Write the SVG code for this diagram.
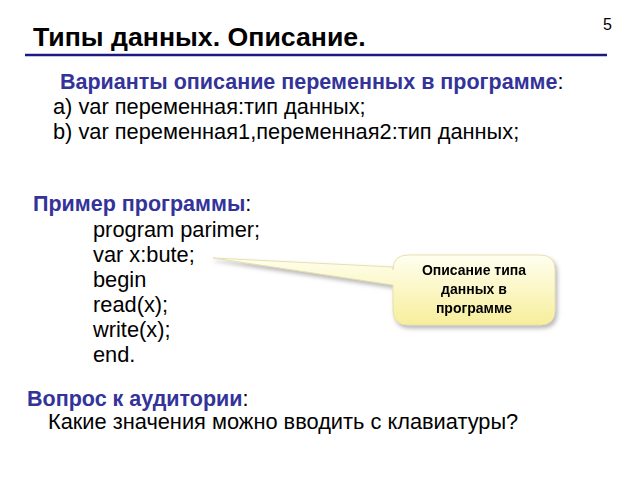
<svg xmlns="http://www.w3.org/2000/svg" width="640" height="480" viewBox="0 0 640 480">
<defs>
<style>
text{font-family:"Liberation Sans",Arial,sans-serif}
.b{fill:#333399;font-weight:bold;font-size:21.5px}
.t{fill:#000;font-size:21.8px}
</style>
<linearGradient id="g" x1="0" y1="0" x2="0" y2="1"><stop offset="0" stop-color="#fffff0"/><stop offset="1" stop-color="#f7ee9a"/></linearGradient>
<filter id="s" x="-10%" y="-10%" width="130%" height="140%"><feDropShadow dx="2" dy="3" stdDeviation="2" flood-color="#888" flood-opacity="0.6"/></filter>
</defs>
<rect width="640" height="480" fill="#fff"/>
<text x="612" y="30" font-size="16" text-anchor="end">5</text>
<text x="33" y="46" font-size="26.7" font-weight="bold">Типы данных. Описание.</text>
<line x1="25" y1="55" x2="607" y2="55" stroke="#1a1a80" stroke-width="2.5"/>
<text x="60" y="89"><tspan class="b">Варианты описание переменных в программе</tspan><tspan class="t">:</tspan></text>
<text class="t" x="53" y="114">a) var переменная:тип данных;</text>
<text class="t" x="53" y="139">b) var переменная1,переменная2:тип данных;</text>
<text x="33" y="211"><tspan class="b">Пример программы</tspan><tspan class="t">:</tspan></text>
<text class="t" x="93" y="237">program parimer;</text>
<text class="t" x="93" y="262">var x:bute;</text>
<text class="t" x="93" y="287">begin</text>
<text class="t" x="93" y="312">read(x);</text>
<text class="t" x="93" y="337">write(x);</text>
<text class="t" x="93" y="362">end.</text>
<g id="callout" filter="url(#s)">
<path d="M408,255 H540 Q555,255 555,270 V310 Q555,325 540,325 H408 Q393,325 393,310 V285 L213,258 L393,267 V270 Q393,255 408,255 Z" fill="url(#g)" stroke="#e8e0b0" stroke-width="1"/>
<text x="474" y="275" font-size="14" font-weight="bold" text-anchor="middle">Описание типа</text>
<text x="474" y="294" font-size="14" font-weight="bold" text-anchor="middle">данных в</text>
<text x="474" y="313" font-size="14" font-weight="bold" text-anchor="middle">программе</text>
</g>
<text x="27" y="406"><tspan class="b">Вопрос к аудитории</tspan><tspan class="t">:</tspan></text>
<text class="t" x="48" y="429">Какие значения можно вводить с клавиатуры?</text>
</svg>
